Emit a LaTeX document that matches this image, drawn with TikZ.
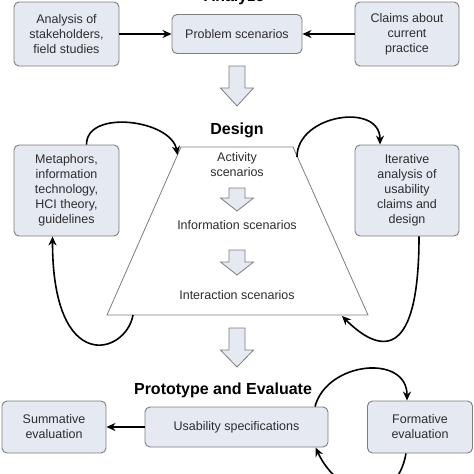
\documentclass[tikz,border=0pt]{standalone}
\usepackage{fontspec}
\setmainfont{Liberation Sans}
\usetikzlibrary{arrows.meta}

\definecolor{boxfill}{RGB}{229,233,242}
\definecolor{boxline}{RGB}{125,125,125}
\definecolor{boxtext}{RGB}{45,45,45}

\tikzset{
  box/.style={draw=boxline, fill=boxfill, line width=0.9pt, rounded corners=5pt,
    align=center, text=boxtext, inner sep=0pt,
    font=\fontsize{12.5}{15}\selectfont},
  stage/.style={font=\fontsize{16}{19}\selectfont\bfseries},
  intext/.style={align=center, text=boxtext, font=\fontsize{12.5}{15}\selectfont},
  flow/.style={draw=boxline, fill=boxfill, line width=0.8pt},
  loop/.style={->, line width=1.6pt},
}

% hollow down arrow: x, shaft top, head start, tip
\newcommand{\flowarrow}[4]{%
  \draw[flow] ({#1-8},#2) -- ({#1+8},#2) -- ({#1+8},#3) -- ({#1+16.5},#3)
    -- (#1,#4) -- ({#1-16.5},#3) -- ({#1-8},#3) -- cycle;}

\begin{document}
\begin{tikzpicture}[x=1pt, y=-1pt, >={Stealth[length=9pt,width=8pt]}]
\useasboundingbox (0,0) rectangle (474,474);

% Analyze
\node[stage, anchor=base] (analyze) at (234,1) {Analyze};

\node[box, minimum width=105, minimum height=64] (ana) at (66.5,34)
{Analysis of\\stakeholders,\\field studies};

\node[box, minimum width=130, minimum height=39] (prob) at (237,34)
{Problem scenarios};

\node[box, minimum width=104, minimum height=64] (claim) at (407,34)
{Claims about\\current\\practice};

\draw[loop] (ana) -- (prob);
\draw[loop] (claim) -- (prob);

\flowarrow{237}{66}{88}{106}

% Design
\node[stage] (design) at (237,130) {Design};

\coordinate (dtl) at (181,147);
\coordinate (dtr) at (293,147);
\coordinate (dbr) at (368,315);
\coordinate (dbl) at (107,315);
\draw[boxline, line width=0.8pt, fill=white] (dtl) -- (dtr) -- (dbr) -- (dbl) -- cycle;

\node[intext] (act) at (237,164.5) {Activity\\scenarios};
\flowarrow{237}{188}{198}{211}
\node[intext] (info) at (237,225) {Information scenarios};
\flowarrow{237}{250}{262}{275}
\node[intext] (inter) at (237,295) {Interaction scenarios};

\node[box, minimum width=105, minimum height=91] (met) at (66.5,190.5)
{Metaphors,\\information\\technology,\\HCI theory,\\guidelines};

\node[box, minimum width=104, minimum height=91] (iter) at (407,190.5)
{Iterative\\analysis of\\usability\\claims and\\design};

\coordinate (dsgnin) at (177.5,155);
\coordinate (dsgnout) at (297,157);
\coordinate (dsgnbl) at (133,315);
\coordinate (dsgnbr) at (342,316);

\draw[loop] ([xshift=20pt]met.north) to[out=90, in=100, looseness=1] (dsgnin);
\draw[loop] (dsgnout) to[out=90, in=90, looseness=1.3] ([xshift=-27pt]iter.north);
\draw[loop] (dsgnbl) to[out=-100, in=-90, out distance=40pt, in distance=140pt] ([xshift=-14pt]met.south);
\draw[loop] ([xshift=12pt]iter.south) to[out=-90, in=-45, out distance=140pt, in distance=40pt] (dsgnbr);

\flowarrow{237}{328}{350}{367}

% Prototype and Evaluate
\node[stage] (proto) at (223,390) {Prototype and Evaluate};

\node[box, minimum width=104, minimum height=52] (summ) at (54,427)
{Summative\\evaluation};

\node[box, minimum width=183, minimum height=40] (usab) at (236.5,427)
{Usability specifications};

\node[box, minimum width=105, minimum height=52] (form) at (420,427)
{Formative\\evaluation};

\draw[loop] (usab) -- (summ);
\draw[loop] ([xshift=78.5pt]usab.north) to[out=75, in=90, looseness=1.3] ([xshift=-13pt]form.north);
\draw[loop] ([xshift=-14pt]form.south) to[out=-100, in=-65, looseness=1.6] ([xshift=79pt]usab.south);
\end{tikzpicture}
\end{document}
